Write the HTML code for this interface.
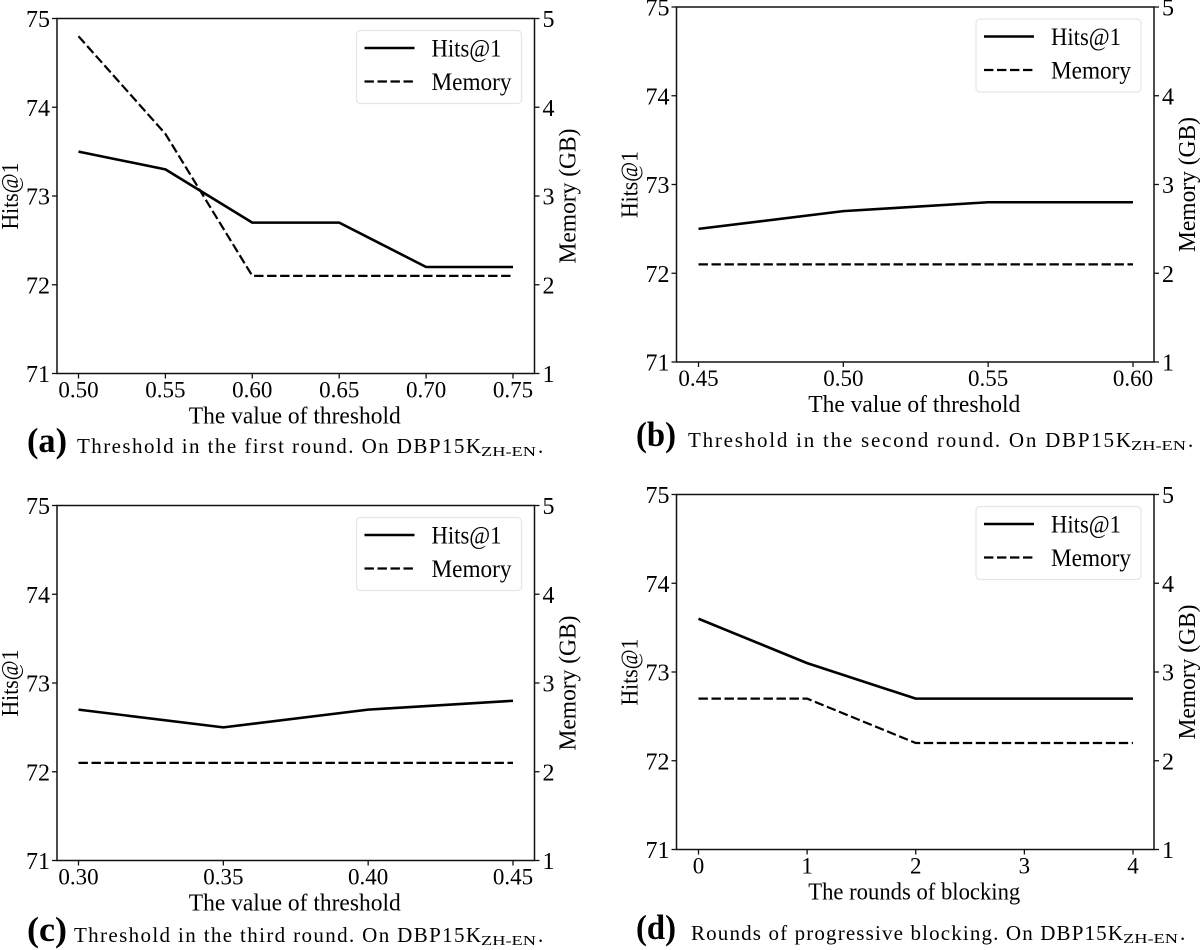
<!DOCTYPE html>
<html lang="en">
<head>
<meta charset="utf-8">
<title>Threshold and blocking rounds charts</title>
<style>
html,body{margin:0;padding:0;background:#fff;width:1200px;height:950px;overflow:hidden}
svg{display:block;font-family:"Liberation Serif",serif;fill:#000;filter:blur(0.35px)}
</style>
</head>
<body>
<svg id="figure" width="1200" height="950" viewBox="0 0 1200 950" xmlns="http://www.w3.org/2000/svg">
  <rect width="1200" height="950" fill="#fff"/>
</svg>
<script>
// Panel (a)
const aX = [0.50, 0.55, 0.60, 0.65, 0.70, 0.75];
const aHits = [73.5, 73.3, 72.7, 72.7, 72.2, 72.2];
const aMemory = [4.8, 3.7, 2.1, 2.1, 2.1, 2.1];
const aTicks = ['0.50', '0.55', '0.60', '0.65', '0.70', '0.75'];
// Panel (b)
const bX = [0.45, 0.50, 0.55, 0.60];
const bHits = [72.5, 72.7, 72.8, 72.8];
const bMemory = [2.1, 2.1, 2.1, 2.1];
const bTicks = ['0.45', '0.50', '0.55', '0.60'];
// Panel (c)
const cX = [0.30, 0.35, 0.40, 0.45];
const cHits = [72.7, 72.5, 72.7, 72.8];
const cMemory = [2.1, 2.1, 2.1, 2.1];
const cTicks = ['0.30', '0.35', '0.40', '0.45'];
// Panel (d)
const dX = [0, 1, 2, 3, 4];
const dHits = [73.6, 73.1, 72.7, 72.7, 72.7];
const dMemory = [2.7, 2.7, 2.2, 2.2, 2.2];
const dTicks = ['0', '1', '2', '3', '4'];
// Shared axes
const leftTicks = [71, 72, 73, 74, 75];
const rightTicks = [1, 2, 3, 4, 5];

const NS = 'http://www.w3.org/2000/svg';
const root = document.getElementById('figure');

function make(parent, tag, attrs, text) {
  const el = document.createElementNS(NS, tag);
  for (const k in attrs) el.setAttribute(k, attrs[k]);
  if (text !== undefined) el.textContent = text;
  parent.appendChild(el);
  return el;
}

function drawPanel(p) {
  const g = make(root, 'g', {});
  
  

  const xMin = p.xs[0], xMax = p.xs[p.xs.length - 1];
  const xScale = v => p.x0 + (v - xMin) / (xMax - xMin) * (p.x1 - p.x0);
  const yLeft = v => p.bottom - (v - 71) / 4 * (p.bottom - p.top);
  const yRight = v => p.bottom - (v - 1) / 4 * (p.bottom - p.top);

  // series
  const hitsPts = p.xs.map((v, i) => xScale(v).toFixed(2) + ',' + yLeft(p.hits[i]).toFixed(2)).join(' ');
  const hitsLine = make(g, 'polyline', {points: hitsPts, fill: 'none', stroke: '#000', 'stroke-width': 2.6, 'stroke-linejoin': 'round'});
  
  
  const memPts = p.xs.map((v, i) => xScale(v).toFixed(2) + ',' + yRight(p.memory[i]).toFixed(2)).join(' ');
  const memLine = make(g, 'polyline', {points: memPts, fill: 'none', stroke: '#000', 'stroke-width': 2.2, 'stroke-dasharray': '9.4 3.6'});
  
  

  // plot frame
  const frame = make(g, 'rect', {x: p.left, y: p.top, width: p.right - p.left, height: p.bottom - p.top, fill: 'none', stroke: '#111', 'stroke-width': 1.5});
  
  

  // x ticks
  p.xs.forEach((v, i) => {
    const x = xScale(v);
    const t = make(g, 'line', {x1: x, x2: x, y1: p.bottom, y2: p.bottom + 5, stroke: '#111', 'stroke-width': 1.3});
    
    
    const l = make(g, 'text', {x: x, y: p.bottom + 24, 'text-anchor': 'middle', 'font-size': 23}, p.ticks[i]);
    
    
  });

  // left ticks
  leftTicks.forEach(v => {
    const y = yLeft(v);
    const t = make(g, 'line', {x1: p.left - 5, x2: p.left, y1: y, y2: y, stroke: '#111', 'stroke-width': 1.3});
    
    
    const l = make(g, 'text', {x: p.left - 7, y: y + 8.5, 'text-anchor': 'end', 'font-size': 24}, String(v));
    
    
  });

  // right ticks
  rightTicks.forEach(v => {
    const y = yRight(v);
    const t = make(g, 'line', {x1: p.right, x2: p.right + 5, y1: y, y2: y, stroke: '#111', 'stroke-width': 1.3});
    
    
    const l = make(g, 'text', {x: p.right + 8, y: y + 8.5, 'font-size': 24}, String(v));
    
    
  });

  // axis titles
  const xt = make(g, 'text', {x: (p.left + p.right) / 2 - 1, y: p.bottom + 50, 'text-anchor': 'middle', 'font-size': 24, textLength: 212, lengthAdjust: 'spacingAndGlyphs'}, p.xTitle);
  
  
  const cy = (p.top + p.bottom) / 2;
  const lt = make(g, 'text', {transform: 'translate(' + (p.left - 39) + ',' + cy + ') rotate(-90)', 'text-anchor': 'middle', 'font-size': 24, textLength: 67, lengthAdjust: 'spacingAndGlyphs'}, 'Hits@1');
  
  
  const rt = make(g, 'text', {transform: 'translate(' + (p.right + 41) + ',' + cy + ') rotate(-90)', 'text-anchor': 'middle', 'font-size': 24, textLength: 135, lengthAdjust: 'spacingAndGlyphs'}, 'Memory (GB)');
  
  

  // legend
  const lg = make(g, 'g', {});
  
  
  const lx = p.right - 178, ly = p.top + 12;
  make(lg, 'rect', {x: lx, y: ly, width: 165, height: 73, rx: 4, fill: '#fff', stroke: '#e6e6e6', 'stroke-width': 1.2});
  make(lg, 'line', {x1: lx + 8, x2: lx + 58, y1: ly + 17.5, y2: ly + 17.5, stroke: '#000', 'stroke-width': 2.6});
  make(lg, 'line', {x1: lx + 8, x2: lx + 58, y1: ly + 51, y2: ly + 51, stroke: '#000', 'stroke-width': 2.2, 'stroke-dasharray': '9.4 3.6'});
  const e1 = make(lg, 'text', {x: lx + 75, y: ly + 26, 'font-size': 25, textLength: 70, lengthAdjust: 'spacingAndGlyphs'}, 'Hits@1');
  
  
  const e2 = make(lg, 'text', {x: lx + 75, y: ly + 59.5, 'font-size': 25, textLength: 80, lengthAdjust: 'spacingAndGlyphs'}, 'Memory');
  
  

  // caption
  const cap = make(g, 'g', {});
  
  
  make(cap, 'text', {x: p.capLabelX, y: p.capY - 1, 'font-size': 35, 'font-weight': 'bold', fill: '#000', textLength: 40, lengthAdjust: 'spacingAndGlyphs'}, '(' + p.id + ')');
  make(cap, 'text', {x: p.capX, y: p.capY, 'font-size': 21, textLength: p.capEnd - p.capX, lengthAdjust: 'spacing'}, p.caption);
  make(cap, 'text', {x: p.capEnd, y: p.capY + 3, 'font-size': 14, textLength: 55, lengthAdjust: 'spacingAndGlyphs'}, 'ZH-EN');
  make(cap, 'text', {x: p.capEnd + 57, y: p.capY, 'font-size': 21}, '.');
}

drawPanel({id: 'a', left: 57, right: 534.5, top: 18.5, bottom: 373.5, x0: 78.5, x1: 513,
  xs: aX, hits: aHits, memory: aMemory, ticks: aTicks, xTitle: 'The value of threshold',
  capLabelX: 27, capX: 77, capEnd: 481, capY: 453, caption: 'Threshold in the first round. On DBP15K'});
drawPanel({id: 'b', left: 676.5, right: 1154, top: 7, bottom: 362, x0: 698.5, x1: 1133,
  xs: bX, hits: bHits, memory: bMemory, ticks: bTicks, xTitle: 'The value of threshold',
  capLabelX: 636, capX: 688, capEnd: 1131, capY: 447, caption: 'Threshold in the second round. On DBP15K'});
drawPanel({id: 'c', left: 57, right: 534.5, top: 505.5, bottom: 860.5, x0: 78.5, x1: 513,
  xs: cX, hits: cHits, memory: cMemory, ticks: cTicks, xTitle: 'The value of threshold',
  capLabelX: 27, capX: 74, capEnd: 481, capY: 942, caption: 'Threshold in the third round. On DBP15K'});
drawPanel({id: 'd', left: 676.5, right: 1154, top: 494.5, bottom: 849.5, x0: 698.5, x1: 1133,
  xs: dX, hits: dHits, memory: dMemory, ticks: dTicks, xTitle: 'The rounds of blocking',
  capLabelX: 636, capX: 691, capEnd: 1123, capY: 940, caption: 'Rounds of progressive blocking. On DBP15K'});
</script>
</body>
</html>
